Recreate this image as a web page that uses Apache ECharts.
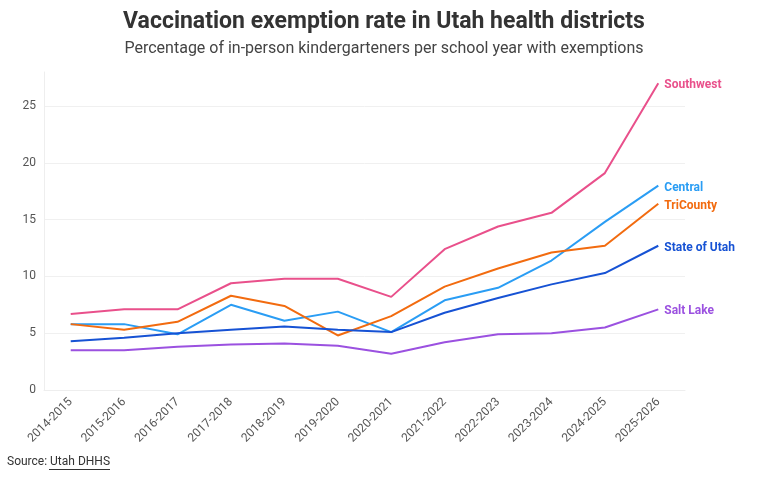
<!DOCTYPE html>
<html>
<head>
<meta charset="utf-8">
<script src="https://cdn.jsdelivr.net/npm/echarts@6/dist/echarts.min.js"></script>
<style>
  html, body { margin: 0; padding: 0; background: #fff; }
  #chart { width: 768px; height: 477px; }
</style>
</head>
<body>
<div id="chart"></div>
<script>
// school years
var years = ['2014-2015', '2015-2016', '2016-2017', '2017-2018', '2018-2019', '2019-2020',
	'2020-2021', '2021-2022', '2022-2023', '2023-2024', '2024-2025', '2025-2026'];

// exemption rate, %
var southwest = [6.7, 7.1, 7.1, 9.4, 9.8, 9.8, 8.2, 12.4, 14.4, 15.6, 19.1, 27.0];
var central = [5.8, 5.8, 4.9, 7.5, 6.1, 6.9, 5.1, 7.9, 9.0, 11.4, 14.8, 18.0];
var triCounty = [5.8, 5.3, 6.0, 8.3, 7.4, 4.8, 6.5, 9.1, 10.7, 12.1, 12.7, 16.4];
var stateOfUtah = [4.3, 4.6, 5.0, 5.3, 5.6, 5.3, 5.1, 6.8, 8.1, 9.3, 10.3, 12.7];
var saltLake = [3.5, 3.5, 3.8, 4.0, 4.1, 3.9, 3.2, 4.2, 4.9, 5.0, 5.5, 7.1];

var FONT = 'Roboto, "Noto Sans", sans-serif';

function makeLine(name, data, color) {
	return {
		name: name,
		type: 'line',
		data: data,
		symbol: 'none',
		clip: false,
		animation: false,
		lineStyle: { color: color, width: 2 },
		itemStyle: { color: color },
		endLabel: {
			show: true,
			formatter: '{a}',
			color: color,
			fontFamily: FONT,
			fontWeight: 'bold',
			fontSize: 12,
			distance: 6,
			offset: [0, 2]
		}
	};
}

var myChart = echarts.init(document.getElementById('chart'));

var option = {
	backgroundColor: '#fff',
	title: {
		text: 'Vaccination exemption rate in Utah health districts',
		subtext: 'Percentage of in-person kindergarteners per school year with exemptions',
		left: 'center',
		top: 6,
		itemGap: 7,
		textStyle: { fontFamily: FONT, fontSize: 23, fontWeight: 'bold', color: '#333' },
		subtextStyle: { fontFamily: FONT, fontSize: 16, color: '#444' }
	},
	grid: { left: 44, right: 83, top: 72, bottom: 87, containLabel: false },
	xAxis: {
		type: 'category',
		data: years,
		boundaryGap: true,
		axisLine: { show: true, lineStyle: { color: '#eee' } },
		axisTick: { show: false },
		axisLabel: { rotate: 45, color: '#555', fontFamily: FONT, fontSize: 12, margin: 10 }
	},
	yAxis: {
		type: 'value',
		min: 0,
		max: 28,
		interval: 5,
		axisLine: { show: true, lineStyle: { color: '#eee' } },
		axisTick: { show: false },
		axisLabel: {
			color: '#555', fontFamily: FONT, fontSize: 12, margin: 8,
			formatter: function(v) { return v % 5 === 0 ? v : ''; }
		},
		splitLine: { show: true, showMaxLine: false, lineStyle: { color: '#f0f0f0' } }
	},
	series: [
		makeLine('Southwest', southwest, '#e9508b'),
		makeLine('Central', central, '#2a9df4'),
		makeLine('TriCounty', triCounty, '#f26b0f'),
		makeLine('State of Utah', stateOfUtah, '#1652d4'),
		makeLine('Salt Lake', saltLake, '#9b51e0')
	],
	graphic: [
		{
			type: 'text',
			left: 7,
			top: 456,
			style: { text: 'Source: Utah DHHS', fill: '#333', font: '12px ' + FONT }
		},
		{
			type: 'line',
			shape: { x1: 49, y1: 469.5, x2: 110, y2: 469.5 },
			style: { stroke: '#333', lineWidth: 1 }
		}
	]
};

myChart.setOption(option);
</script>
</body>
</html>
